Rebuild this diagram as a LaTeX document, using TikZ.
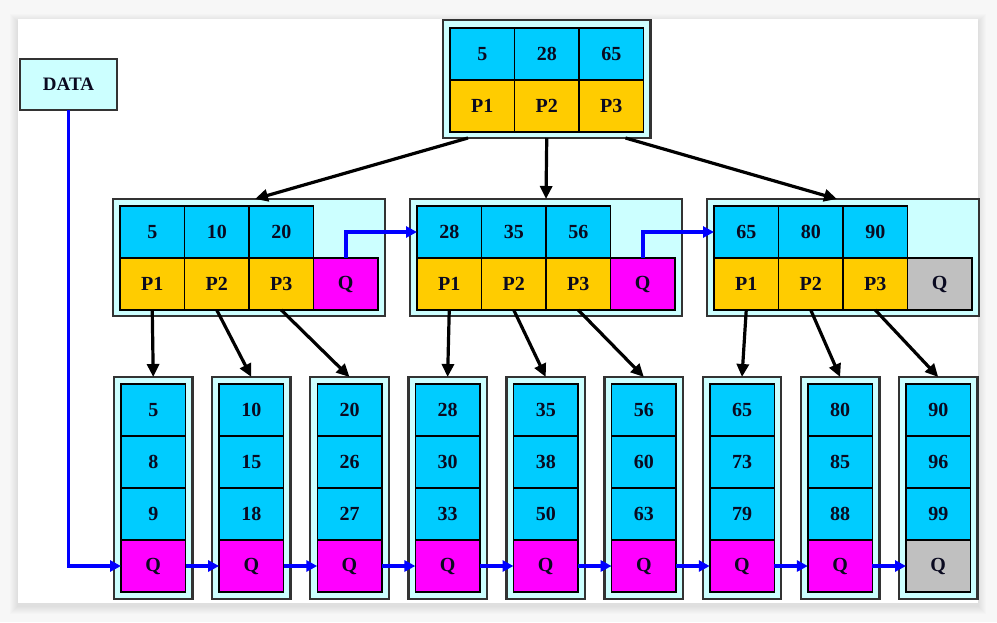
\documentclass[tikz,border=0pt]{standalone}
\usepackage{fontspec}
\setmainfont{Liberation Serif}
\usetikzlibrary{arrows.meta,calc}
\definecolor{keyblue}{HTML}{00CCFF}
\definecolor{ptrorange}{HTML}{FFCC00}
\definecolor{qmag}{HTML}{FF00FF}
\definecolor{qgray}{HTML}{C0C0C0}
\definecolor{framefill}{HTML}{CCFFFF}
\definecolor{framedraw}{HTML}{333333}
\definecolor{linkblue}{HTML}{0000FF}
\definecolor{pagebg}{HTML}{F7F7F7}
\definecolor{txt}{HTML}{0A0A20}
\tikzset{
  cell/.style={draw=black, line width=1.5pt, minimum width=64.5pt, minimum height=52pt,
    inner sep=0pt, outer sep=0pt, anchor=north west, text=txt,
    font=\fontsize{20}{20}\selectfont\bfseries},
  key/.style={cell, fill=keyblue},
  ptr/.style={cell, fill=ptrorange},
  qlink/.style={cell, fill=qmag},
  qend/.style={cell, fill=qgray},
  frame/.style={draw=framedraw, line width=2.4pt, fill=framefill, inner sep=0pt, outer sep=0pt,
    anchor=north west},
  child/.style={draw=black, line width=3.2pt, -{Triangle[length=13pt,width=12pt]}},
  link/.style={draw=linkblue, line width=3.6pt, -{Triangle[length=11pt,width=11pt]}},
}
\begin{document}
\begin{tikzpicture}[x=1pt,y=-1pt]
\useasboundingbox (0,0) rectangle (997,622);
\fill[pagebg] (0,0) rectangle (997,622);
\foreach \s in {1,...,8} {
  \fill[black, opacity=0.01] (18-\s,19-\s+3) rectangle (978+\s,603+\s+3);
}
\fill[white] (18,19) rectangle (978,603);

% DATA box
\node[frame, minimum width=97pt, minimum height=51pt, text=txt,
  font=\fontsize{19}{19}\selectfont\bfseries] (data) at (20,59) {DATA};

% root
\node[frame, minimum width=207.5pt, minimum height=118pt] (rootframe) at (443,20) {};
\foreach \k/\v [count=\c from 0] in {1/5,2/28,3/65} {
  \node[key] (rk\k) at (450+64.5*\c,28) {\v};
  \node[ptr] (rp\k) at (450+64.5*\c,80) {P\k};
}

% middle level
\foreach \j/\a/\b/\c/\qs in {0/5/10/20/qlink, 1/28/35/56/qlink, 2/65/80/90/qend} {
  \pgfmathsetmacro\fx{113+297*\j}
  \node[frame, minimum width=272pt, minimum height=117pt] (mid\j) at (\fx,199) {};
  \node[key] (m\j-k1) at (\fx+7,206) {\a};
  \node[key] (m\j-k2) at (\fx+7+64.5,206) {\b};
  \node[key] (m\j-k3) at (\fx+7+129,206) {\c};
  \node[ptr] (m\j-p1) at (\fx+7,258) {P1};
  \node[ptr] (m\j-p2) at (\fx+7+64.5,258) {P2};
  \node[ptr] (m\j-p3) at (\fx+7+129,258) {P3};
  \node[\qs] (m\j-q) at (\fx+7+193.5,258) {Q};
}

% leaves
\foreach \i/\a/\b/\c/\qs in {0/5/8/9/qlink, 1/10/15/18/qlink, 2/20/26/27/qlink,
    3/28/30/33/qlink, 4/35/38/50/qlink, 5/56/60/63/qlink, 6/65/73/79/qlink,
    7/80/85/88/qlink, 8/90/96/99/qend} {
  \pgfmathsetmacro\lx{114+98.125*\i}
  \node[frame, minimum width=78.5pt, minimum height=222pt] (leaf\i) at (\lx,377) {};
  \node[key] (l\i-1) at (\lx+7,384) {\a};
  \node[key] (l\i-2) at (\lx+7,436) {\b};
  \node[key] (l\i-3) at (\lx+7,488) {\c};
  \node[\qs] (l\i-q) at (\lx+7,540) {Q};
}

% root -> middle
\draw[child] ([xshift=25pt]rootframe.south west) -- ([xshift=6pt]mid0.north);
\draw[child] (rootframe.south) -- (mid1.north);
\draw[child] ([xshift=-25pt]rootframe.south east) -- ([xshift=-6pt]mid2.north);

% middle -> leaves
\foreach \j in {0,1,2} {
  \foreach \k in {1,2,3} {
    \pgfmathtruncatemacro\n{3*\j+\k-1}
    \draw[child] (m\j-p\k.south) -- (leaf\n.north);
  }
}

% sibling links in middle level
\draw[link] (m0-q.north) |- (m1-k1.west);
\draw[link] (m1-q.north) |- (m2-k1.west);

% DATA link and leaf chain
\draw[link] (data.south) |- (l0-q.west);
\foreach \i in {0,...,7} {
  \pgfmathtruncatemacro\nx{\i+1}
  \draw[link] (l\i-q.east) -- (l\nx-q.west);
}
\end{tikzpicture}
\end{document}
